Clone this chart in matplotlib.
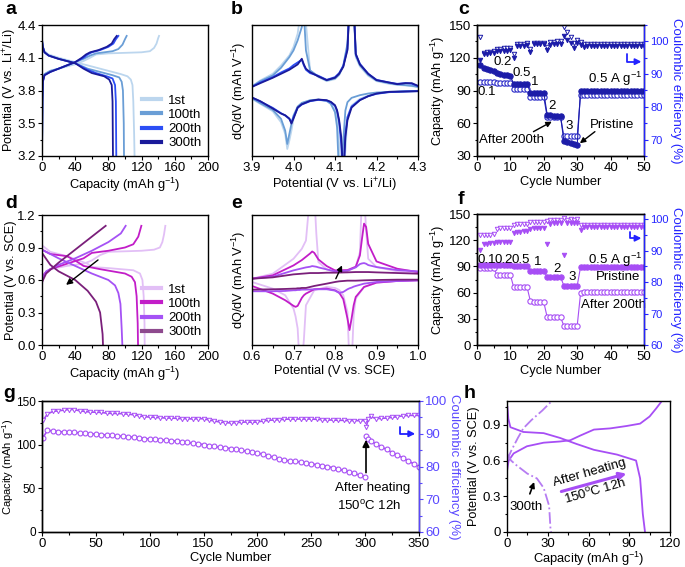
import matplotlib
matplotlib.use('Agg')
import matplotlib.pyplot as plt
from matplotlib.ticker import MultipleLocator
from matplotlib.lines import Line2D

plt.rcParams['font.family'] = ['Liberation Sans', 'DejaVu Sans']
plt.rcParams['mathtext.default'] = 'regular'
plt.rcParams['axes.linewidth'] = 1.0

# ---------------- panel a : charge / discharge vs Li ----------------
a_ch1_x = [0, 0.5, 1, 3, 10, 20, 30, 40, 50, 58, 65, 80, 100, 120, 130, 135, 138, 140, 141]
a_ch1_y = [3.2, 3.7, 3.9, 3.95, 3.98, 4.0, 4.02, 4.04, 4.07, 4.1, 4.13, 4.14, 4.145, 4.15, 4.16, 4.19, 4.23, 4.28, 4.3]
a_ch100_x = [0, 0.5, 1, 3, 10, 20, 30, 40, 50, 58, 65, 75, 85, 92, 97, 100, 102]
a_ch100_y = [3.2, 3.7, 3.89, 3.95, 3.98, 4.0, 4.03, 4.06, 4.09, 4.12, 4.14, 4.15, 4.16, 4.18, 4.22, 4.27, 4.3]
a_ch200_x = [0, 0.5, 1, 3, 10, 20, 30, 40, 50, 55, 60, 70, 80, 86, 89, 92]
a_ch200_y = [3.2, 3.7, 3.88, 3.94, 3.97, 4.0, 4.03, 4.06, 4.1, 4.13, 4.15, 4.17, 4.2, 4.23, 4.27, 4.3]
a_ch300_x = [0, 0.5, 1, 3, 10, 20, 30, 40, 48, 53, 58, 68, 78, 84, 87, 90]
a_ch300_y = [3.2, 3.7, 3.88, 3.94, 3.97, 4.0, 4.03, 4.06, 4.1, 4.13, 4.15, 4.17, 4.2, 4.23, 4.27, 4.3]
a_dis1_x = [0, 1, 3, 8, 20, 40, 60, 80, 95, 103, 107, 109, 110, 111, 111.5]
a_dis1_y = [4.25, 4.2, 4.16, 4.13, 4.1, 4.06, 4.02, 3.98, 3.95, 3.93, 3.9, 3.85, 3.7, 3.4, 3.2]
a_dis100_x = [0, 1, 3, 8, 20, 40, 55, 70, 85, 93, 96, 97.5, 98.5, 98.8]
a_dis100_y = [4.25, 4.2, 4.15, 4.12, 4.09, 4.05, 4.0, 3.97, 3.94, 3.92, 3.88, 3.8, 3.5, 3.2]
a_dis200_x = [0, 1, 3, 8, 20, 40, 55, 65, 78, 85, 88, 89, 89.5]
a_dis200_y = [4.26, 4.2, 4.15, 4.12, 4.09, 4.05, 3.99, 3.96, 3.93, 3.91, 3.85, 3.7, 3.2]
a_dis300_x = [0, 1, 3, 8, 20, 40, 50, 60, 75, 81, 84, 85, 85.5]
a_dis300_y = [4.27, 4.2, 4.15, 4.12, 4.09, 4.05, 4.0, 3.96, 3.93, 3.9, 3.85, 3.7, 3.2]

# ---------------- panel b : dQ/dV vs Li (arbitrary units) ----------------
b_ch_x = [3.90, 3.92, 3.95, 3.97, 3.99, 4.00, 4.01, 4.02, 4.025, 4.03, 4.04, 4.06, 4.08, 4.10, 4.11,
          4.12, 4.13, 4.135, 4.14, 4.145, 4.15, 4.16, 4.18, 4.20, 4.23, 4.25, 4.27, 4.285, 4.30]
b_ch1 = [13, 30, 50, 75, 105, 130, 170, 260, 260, 200, 60, 40, 28, 34, 46, 72, 135, 260, 260, 250, 100, 72, 44, 28, 20, 17, 15, 13, 10]
b_ch100 = [12, 28, 45, 68, 100, 120, 150, 190, 230, 120, 60, 42, 30, 36, 48, 75, 140, 260, 260, 250, 105, 76, 47, 30, 22, 18, 16, 14, 11]
b_ch200 = [11, 24, 40, 54, 66, 76, 84, 92, 75, 62, 52, 44, 32, 40, 52, 74, 125, 260, 260, 260, 108, 80, 50, 32, 24, 20, 22, 20, 13]
b_ch300 = [11, 22, 38, 50, 62, 70, 78, 95, 78, 65, 55, 42, 31, 38, 50, 71, 121, 260, 260, 260, 110, 78, 50, 31, 24, 19, 22, 22, 14]
b_dis_x = [3.90, 3.92, 3.95, 3.97, 3.98, 3.985, 3.99, 3.995, 4.00, 4.01, 4.02, 4.04, 4.06, 4.08, 4.09,
           4.10, 4.105, 4.11, 4.115, 4.12, 4.125, 4.13, 4.14, 4.16, 4.18, 4.20, 4.23, 4.27, 4.30]
b_dis1 = [-25, -40, -62, -95, -130, -175, -150, -120, -85, -50, -38, -30, -28, -32, -40, -60, -90, -160, -260, -260, -180, -80, -45, -25, -15, -9, -5, -3, -2]
b_dis100 = [-23, -38, -58, -85, -120, -160, -130, -100, -75, -48, -37, -29, -27, -31, -40, -65, -110, -260, -260, -150, -60, -35, -22, -14, -9, -6, -4, -2, -1]
b_dis200 = [-21, -33, -52, -68, -75, -80, -85, -95, -80, -52, -42, -32, -28, -30, -35, -46, -62, -95, -160, -260, -130, -80, -48, -28, -17, -10, -5, -3, -2]
b_dis300 = [-21, -32, -54, -69, -74, -79, -84, -99, -84, -51, -41, -31, -27, -29, -34, -44, -59, -89, -139, -260, -139, -89, -51, -29, -17, -9, -4, -3, -2]

# ---------------- panel c : rate, Li ----------------
c_cycle = list(range(1, 51))
c_cap_pristine = [113, 111, 110, 109, 108, 106, 105, 104, 104, 103,
                  96, 96, 96, 96, 96, 88, 88, 88, 88, 88,
                  68, 68, 67, 67, 67, 44, 43, 42, 41, 40] + [90] * 20
c_cap_after = [98, 98, 98, 98, 98, 97, 97, 97, 97, 97,
               91, 91, 91, 91, 91, 84, 84, 84, 84, 84,
               66, 66, 66, 66, 66, 48, 48, 48, 48, 48] + [86] * 20
c_ce_pristine = [94.3, 96.0, 96.2, 96.4, 96.5, 97.0, 97.1, 97.2, 97.2, 97.3,
                 94.8, 98.6, 98.7, 98.7, 98.8, 96.9, 99.1, 99.1, 99.2, 99.2,
                 97.4, 99.0, 99.2, 99.3, 99.3, 101.5, 100.5, 99.5, 97.9, 99.5,
                 99.0, 98.3] + [98.7] * 18
c_ce_after = [101.4, 96.6, 96.8, 96.8, 97.0, 97.8, 97.8, 97.9, 98.0, 98.0,
              96.0, 99.2, 99.3, 99.3, 99.4, 97.8, 99.5, 99.5, 99.6, 99.6,
              98.2, 99.8, 99.9, 100.0, 100.0, 104.5, 103.0, 101.4, 99.4, 100.4,
              99.8, 99.2] + [99.2] * 18

# ---------------- panel d : charge / discharge vs SCE ----------------
d_ch1_x = [0, 2, 10, 30, 50, 60, 70, 80, 100, 120, 135, 142, 145, 147, 148.6]
d_ch1_y = [0.55, 0.65, 0.7, 0.73, 0.75, 0.78, 0.83, 0.86, 0.865, 0.87, 0.88, 0.9, 0.95, 1.02, 1.1]
d_ch100_x = [0, 3, 10, 30, 50, 60, 80, 100, 110, 116, 119.7]
d_ch100_y = [0.6, 0.66, 0.7, 0.75, 0.8, 0.85, 0.87, 0.9, 0.93, 1.0, 1.1]
d_ch200_x = [0, 5, 20, 40, 60, 80, 95, 100.8]
d_ch200_y = [0.6, 0.68, 0.74, 0.8, 0.87, 0.95, 1.03, 1.1]
d_ch300_x = [0, 5, 20, 40, 60, 76.7]
d_ch300_y = [0.58, 0.66, 0.76, 0.88, 1.0, 1.1]
d_dis1_x = [0, 10, 30, 55, 60, 80, 110, 118, 121, 122.5, 123.5, 123.7]
d_dis1_y = [0.92, 0.86, 0.82, 0.75, 0.72, 0.71, 0.69, 0.66, 0.6, 0.45, 0.2, 0]
d_dis100_x = [0, 10, 30, 40, 50, 70, 100, 108, 112, 114, 115.3, 115.7]
d_dis100_y = [0.88, 0.84, 0.82, 0.78, 0.73, 0.7, 0.66, 0.63, 0.58, 0.45, 0.2, 0]
d_dis200_x = [0, 20, 40, 60, 80, 88, 92, 94.5, 96, 96.8]
d_dis200_y = [0.88, 0.8, 0.73, 0.66, 0.6, 0.55, 0.48, 0.38, 0.15, 0]
d_dis300_x = [0, 10, 20, 40, 55, 65, 70, 73, 73.5]
d_dis300_y = [0.85, 0.74, 0.68, 0.6, 0.5, 0.4, 0.3, 0.1, 0]

# ---------------- panel e : dQ/dV vs SCE ----------------
e_ch_x = [0.60, 0.65, 0.70, 0.72, 0.73, 0.74, 0.745, 0.75, 0.755, 0.76, 0.78, 0.80, 0.83, 0.85,
          0.86, 0.865, 0.87, 0.875, 0.88, 0.90, 0.95, 1.00]
e_ch1 = [4, 19, 64, 94, 119, 260, 260, 260, 140, 54, 32, 24, 27, 40, 84, 260, 260, 150, 64, 39, 26, 21]
e_ch100 = [4, 14, 44, 60, 70, 80, 86, 82, 72, 62, 42, 29, 30, 40, 74, 124, 170, 160, 109, 56, 34, 24]
e_ch200 = [4, 10, 29, 35, 38, 40, 42, 41, 40, 38, 32, 26, 28, 38, 48, 50, 51, 49, 45, 39, 30, 26]
e_ch300 = [4, 8, 17, 19, 20, 21, 21, 21, 21, 21, 22, 22, 23, 24, 24, 24, 24, 24, 24, 23, 21, 19]
e_dis_x = [0.60, 0.65, 0.68, 0.70, 0.705, 0.71, 0.715, 0.72, 0.725, 0.73, 0.75, 0.78, 0.80, 0.81,
           0.82, 0.83, 0.835, 0.84, 0.845, 0.85, 0.87, 0.90, 0.95, 1.00]
e_dis1 = [-6, -26, -46, -86, -110, -146, -260, -260, -180, -76, -31, -21, -24, -30, -46, -96, -260, -260, -106, -56, -21, -8, -3, -1]
e_dis100 = [-18, -41, -61, -78, -81, -78, -66, -54, -46, -41, -28, -26, -31, -38, -58, -116, -151, -116, -76, -51, -21, -8, -3, -1]
e_dis200 = [-34, -34, -33, -31, -31, -30, -30, -29, -29, -29, -28, -28, -32, -39, -36, -28, -25, -23, -20, -18, -11, -6, -3, -1]
e_dis300 = [-29, -28, -27, -26, -26, -25, -25, -24, -24, -24, -18, -11, -6, -4, -3, -2, -2, -2, -2, -2, -1, 0, 1, 1]

# ---------------- panel f : rate, SCE ----------------
f_cycle = list(range(1, 51))
f_cap_pristine = [92] * 10 + [90] * 5 + [85] * 5 + [78] * 5 + [68] * 5 + [89] * 20
f_cap_after = [88] * 5 + [80] * 5 + [66] * 5 + [50, 49, 49, 49, 49] + [32] * 5 + [22] * 5 + [59] + [61] * 19
f_ce_pristine = [90.1, 92.2, 92.2, 92.3, 92.4, 92.6, 92.7, 92.7, 92.8, 92.8,
                 95.5, 96.0, 96.0, 96.1, 96.1, 96.9, 97.0, 97.0, 97.1, 97.1,
                 92.2, 98.4, 98.6, 98.6, 98.7, 88.5, 98.6, 98.7, 98.7, 98.6,
                 96.5] + [97.5] * 19
f_ce_after = [94.9, 94.9, 95.0, 95.0, 95.1, 96.8, 97.0, 97.0, 97.1, 97.1,
              98.2, 98.4, 98.4, 98.5, 98.5, 99.0, 99.1, 99.1, 99.2, 99.2,
              99.3, 99.6, 99.7, 99.7, 99.8, 100.3, 99.8, 100.1, 99.6, 99.9,
              98.0] + [98.0] * 19

# ---------------- panel g : long cycling ----------------
g_cyc1 = [1] + list(range(5, 301, 5))
g_cap1 = [108, 116.5, 115.5, 115, 114.5, 114, 114, 113.5, 113, 112.5, 112, 111.5, 111, 110.5, 110,
          109.5, 109, 108.5, 108, 107, 106.5, 106, 105.5, 105, 104.5, 104, 103, 102.5, 101.5, 101,
          100, 99, 98, 97, 96.5, 95.5, 94.5, 93.5, 92.5, 91.5, 90.5, 89, 87.5, 85.5, 83.5, 82,
          81.5, 81, 80, 79, 78, 77, 76, 75, 73.5, 72, 70.5, 69, 67, 65, 63]
g_ce1 = [94.1, 96.0, 96.8, 97.0, 97.2, 97.4, 97.4, 97.0, 96.8, 96.6, 96.6, 96.5, 96.3, 96.2, 96.2,
         96.1, 96.0, 95.8, 95.5, 95.2, 95.1, 95.0, 94.9, 94.8, 94.8, 94.7, 94.6, 94.6, 94.5, 94.6,
         94.6, 94.2, 93.9, 93.6, 93.4, 93.3, 93.4, 93.5, 93.6, 93.5, 93.6, 93.9, 94.1, 94.2, 94.3,
         94.4, 94.5, 94.5, 94.5, 94.5, 94.5, 94.4, 94.3, 94.2, 94.2, 94.1, 94.1, 94.0, 94.0, 94.0, 94.0]
g_cyc2 = [301, 303] + list(range(305, 351, 5))
g_cap2 = [110, 106, 104, 101, 97.5, 94.5, 91, 88, 85, 81.5, 78, 75]
g_ce2 = [92.2, 94.5, 95.3, 94.6, 94.7, 94.8, 95.0, 95.2, 95.5, 95.6, 95.6, 95.6]

# ---------------- panel h : after heating ----------------
h_ch_x = [0, 1.2, 4.9, 14.7, 27, 39, 46.5, 54, 64, 76, 88, 98, 105, 110, 114]
h_ch_y = [0.51, 0.6, 0.66, 0.72, 0.75, 0.76, 0.77, 0.81, 0.86, 0.87, 0.89, 0.91, 0.97, 1.04, 1.1]
h_dis_x = [0.3, 1, 2.5, 12, 27, 39, 51, 64, 81, 95, 98, 100, 101.6]
h_dis_y = [1.05, 0.95, 0.88, 0.84, 0.83, 0.79, 0.74, 0.69, 0.65, 0.6, 0.45, 0.15, 0]
h_ch300_x = [0, 3, 8, 12, 18, 26, 33]
h_ch300_y = [0.6, 0.68, 0.79, 0.87, 0.94, 1.02, 1.1]
h_dis300_x = [0, 3, 7, 15, 22, 27, 31, 32, 32.5]
h_dis300_y = [0.66, 0.6, 0.56, 0.49, 0.45, 0.37, 0.22, 0.03, 0]

cycle_labels = ['1st', '100th', '200th', '300th']
blues = ['#bcd6ee', '#6a9ed6', '#2c4ef5', '#1a1a9a']
purples = ['#e2bff6', '#c21dc8', '#a552f5', '#7a1f7a']
purple_leg = ['#e2bff6', '#c21dc8', '#a552f5', '#8e4a8e']
cblue = '#1c1ca8'
ceblue = '#2424ff'
purple = '#a74ef5'

W, H = 685, 567
fig = plt.figure(figsize=(6.85, 5.67), dpi=100)


def add_ax(l, t, r, b):
    return fig.add_axes([l / W, 1 - b / H, (r - l) / W, (b - t) / H])


def style(ax):
    ax.tick_params(which='both', direction='out', labelsize=9.5, width=0.8, pad=1.5)
    ax.tick_params(which='major', length=3)
    ax.tick_params(which='minor', length=1.8)


def labels(ax, xl, yl, right_edge_px, ax_left_px, width_px, ysize=9.2):
    # right_edge_px: page x where the rotated y label ends (its right side)
    ax.set_xlabel(xl, fontsize=9.3, labelpad=1)
    ax.set_ylabel(yl, fontsize=ysize)
    ax.yaxis.set_label_coords((right_edge_px - ax_left_px) / width_px, 0.5)


def panel_label(x, y, s):
    fig.text(x / W, 1 - y / H, s, fontsize=14, fontweight='bold', va='center', ha='left')


def corner_arrow(ax, x1, y1, x2, y2, color):
    ax.annotate('', xy=(x2, y2), xytext=(x1, y1), xycoords='axes fraction',
                arrowprops=dict(arrowstyle='-|>', color=color, lw=1.3, mutation_scale=9,
                                shrinkA=0, shrinkB=0,
                                connectionstyle='angle,angleA=90,angleB=0,rad=0'))


def right_axis(ax2, color, tick_size, right_edge_px, ax_left_px, width_px):
    ax2.spines['right'].set_color(color)
    ax2.tick_params(axis='y', which='both', colors=color, labelsize=tick_size)
    ax2.set_ylabel('Coulombic efficiency (%)', fontsize=9.5, color=color, rotation=270)
    ax2.yaxis.set_label_coords((right_edge_px - ax_left_px) / width_px, 0.5)


# ---- a
ax = add_ax(42, 25, 208, 156)
style(ax)
for cx, cy, dx, dy, col in zip([a_ch1_x, a_ch100_x, a_ch200_x, a_ch300_x],
                               [a_ch1_y, a_ch100_y, a_ch200_y, a_ch300_y],
                               [a_dis1_x, a_dis100_x, a_dis200_x, a_dis300_x],
                               [a_dis1_y, a_dis100_y, a_dis200_y, a_dis300_y],
                               blues):
    ax.plot(cx, cy, color=col, lw=1.3)
    ax.plot(dx, dy, color=col, lw=1.3)
ax.set_xlim(0, 200)
ax.set_ylim(3.2, 4.4)
ax.xaxis.set_major_locator(MultipleLocator(40))
ax.xaxis.set_minor_locator(MultipleLocator(20))
ax.set_yticks([3.2, 3.5, 3.8, 4.1, 4.4])
ax.set_yticks([3.35, 3.65, 3.95, 4.25], minor=True)
labels(ax, 'Capacity (mAh g$^{-1}$)', 'Potential (V vs. Li$^{+}$/Li)', 19, 42, 166)
handles = [Line2D([], [], color=c, lw=3) for c in blues]
ax.legend(handles, cycle_labels, loc='lower right', frameon=False, fontsize=9.5,
          handlelength=1.5, handletextpad=0.5, labelspacing=0.15, borderaxespad=0.1)
panel_label(5, 10, 'a')

# ---- b
ax = add_ax(252, 25, 418, 156)
style(ax)
for ys, col in zip([b_ch1, b_ch100, b_ch200, b_ch300], blues):
    ax.plot(b_ch_x, ys, color=col, lw=1.3)
for ys, col in zip([b_dis1, b_dis100, b_dis200, b_dis300], blues):
    ax.plot(b_dis_x, ys, color=col, lw=1.3)
ax.set_xlim(3.9, 4.3)
ax.set_ylim(-196, 196)
ax.set_yticks([])
ax.xaxis.set_major_locator(MultipleLocator(0.1))
ax.xaxis.set_minor_locator(MultipleLocator(0.05))
labels(ax, 'Potential (V vs. Li$^{+}$/Li)', 'dQ/dV (mAh V$^{-1}$)', 248, 252, 166)
panel_label(231, 10, 'b')

# ---- c
ax = add_ax(477, 25, 644, 156)
style(ax)
ax2 = ax.twinx()
style(ax2)
ax2.plot(c_cycle, c_ce_after, 'v', color=cblue, mfc='white', ms=3.2, mew=0.7)
ax2.plot(c_cycle, c_ce_pristine, 'v', color=cblue, ms=3.2, mew=0.7)
ax.plot(c_cycle, c_cap_after, '-o', color='#2a2ac8', mfc='white', ms=3.8, mew=0.8, lw=0.8)
ax.plot(c_cycle, c_cap_pristine, '-o', color=cblue, ms=3.8, mew=0.8, lw=0.8)
ax.set_xlim(0, 50)
ax.set_ylim(30, 150)
ax2.set_ylim(65, 105)
ax.xaxis.set_major_locator(MultipleLocator(10))
ax.xaxis.set_minor_locator(MultipleLocator(5))
ax.yaxis.set_major_locator(MultipleLocator(30))
ax.yaxis.set_minor_locator(MultipleLocator(15))
ax2.yaxis.set_major_locator(MultipleLocator(10))
ax2.yaxis.set_minor_locator(MultipleLocator(5))
right_axis(ax2, ceblue, 8, 682, 477, 167)
labels(ax, 'Cycle Number', 'Capacity (mAh g$^{-1}$)', 447, 477, 167)
ax.text(3, 89, '0.1', fontsize=9.5, ha='center', va='center')
ax.text(7.8, 116, '0.2', fontsize=9.5, ha='center', va='center')
ax.text(13.4, 106, '0.5', fontsize=9.5, ha='center', va='center')
ax.text(17.4, 98, '1', fontsize=9.5, ha='center', va='center')
ax.text(22.4, 76, '2', fontsize=9.5, ha='center', va='center')
ax.text(27.6, 57.5, '3', fontsize=9.5, ha='center', va='center')
ax.text(40.3, 58.5, 'Pristine', fontsize=9.5, ha='center', va='center')
ax.text(41.3, 101, '0.5 A g$^{-1}$', fontsize=9.5, ha='center', va='center')
ax.text(10.4, 44.5, 'After 200th', fontsize=9.5, ha='center', va='center')
ax.annotate('', xy=(22.4, 61.5), xytext=(16.9, 52.3),
            arrowprops=dict(arrowstyle='-|>', color='k', lw=1.0, mutation_scale=8, shrinkA=0, shrinkB=0))
ax.annotate('', xy=(30.8, 41.7), xytext=(35.3, 52.3),
            arrowprops=dict(arrowstyle='-|>', color='k', lw=1.0, mutation_scale=8, shrinkA=0, shrinkB=0))
corner_arrow(ax, 0.9, 0.775, 0.985, 0.72, ceblue)
panel_label(458, 10, 'c')

# ---- d
ax = add_ax(42, 215, 208, 345)
style(ax)
for cx, cy, dx, dy, col in zip([d_ch1_x, d_ch100_x, d_ch200_x, d_ch300_x],
                               [d_ch1_y, d_ch100_y, d_ch200_y, d_ch300_y],
                               [d_dis1_x, d_dis100_x, d_dis200_x, d_dis300_x],
                               [d_dis1_y, d_dis100_y, d_dis200_y, d_dis300_y],
                               purples):
    ax.plot(cx, cy, color=col, lw=1.3)
    ax.plot(dx, dy, color=col, lw=1.3)
ax.annotate('', xy=(29, 0.555), xytext=(67.5, 0.785),
            arrowprops=dict(arrowstyle='-|>', color='k', lw=1.0, mutation_scale=9, shrinkA=0, shrinkB=0))
ax.set_xlim(0, 200)
ax.set_ylim(0, 1.2)
ax.xaxis.set_major_locator(MultipleLocator(40))
ax.xaxis.set_minor_locator(MultipleLocator(20))
ax.yaxis.set_major_locator(MultipleLocator(0.3))
ax.yaxis.set_minor_locator(MultipleLocator(0.15))
labels(ax, 'Capacity (mAh g$^{-1}$)', 'Potential (V vs. SCE)', 17, 42, 166)
handles = [Line2D([], [], color=c, lw=3) for c in purple_leg]
ax.legend(handles, cycle_labels, loc='lower right', frameon=False, fontsize=9.5,
          handlelength=1.5, handletextpad=0.5, labelspacing=0.15, borderaxespad=0.1)
panel_label(5, 203, 'd')

# ---- e
ax = add_ax(252, 215, 418, 345)
style(ax)
for ys, col in zip([e_ch1, e_ch100, e_ch200, e_ch300], purples):
    ax.plot(e_ch_x, ys, color=col, lw=1.3)
for ys, col in zip([e_dis1, e_dis100, e_dis200, e_dis300], purples):
    ax.plot(e_dis_x, ys, color=col, lw=1.3)
ax.annotate('', xy=(0.817, 44), xytext=(0.802, 4),
            arrowprops=dict(arrowstyle='-|>', color='k', lw=1.0, mutation_scale=8, shrinkA=0, shrinkB=0))
ax.set_xlim(0.6, 1.0)
ax.set_ylim(-196, 196)
ax.set_yticks([])
ax.xaxis.set_major_locator(MultipleLocator(0.1))
ax.xaxis.set_minor_locator(MultipleLocator(0.05))
labels(ax, 'Potential (V vs. SCE)', 'dQ/dV (mAh V$^{-1}$)', 248, 252, 166)
panel_label(231, 203, 'e')

# ---- f
ax = add_ax(477, 214, 644, 345)
style(ax)
ax2 = ax.twinx()
style(ax2)
ax2.plot(f_cycle, f_ce_after, 'v', color=purple, mfc='white', ms=3.2, mew=0.7)
ax2.plot(f_cycle, f_ce_pristine, 'v', color=purple, ms=3.2, mew=0.7)
ax.plot(f_cycle, f_cap_after, '-o', color=purple, mfc='white', ms=3.8, mew=0.8, lw=0.8)
ax.plot(f_cycle, f_cap_pristine, '-o', color=purple, ms=3.8, mew=0.8, lw=0.8)
ax.set_xlim(0, 50)
ax.set_ylim(0, 150)
ax2.set_ylim(60, 101.6)
ax.xaxis.set_major_locator(MultipleLocator(10))
ax.xaxis.set_minor_locator(MultipleLocator(5))
ax.yaxis.set_major_locator(MultipleLocator(30))
ax.yaxis.set_minor_locator(MultipleLocator(15))
ax2.yaxis.set_major_locator(MultipleLocator(10))
ax2.yaxis.set_minor_locator(MultipleLocator(5))
right_axis(ax2, ceblue, 8, 682, 477, 167)
labels(ax, 'Cycle Number', 'Capacity (mAh g$^{-1}$)', 447, 477, 167)
ax.text(2.9, 97.5, '0.1', fontsize=9.5, ha='center', va='center')
ax.text(7.9, 97.5, '0.2', fontsize=9.5, ha='center', va='center')
ax.text(13.0, 97.5, '0.5', fontsize=9.5, ha='center', va='center')
ax.text(18.1, 95.5, '1', fontsize=9.5, ha='center', va='center')
ax.text(23.9, 86.5, '2', fontsize=9.5, ha='center', va='center')
ax.text(28.4, 77.5, '3', fontsize=9.5, ha='center', va='center')
ax.text(41.3, 97.5, '0.5 A g$^{-1}$', fontsize=9.5, ha='center', va='center')
ax.text(42.3, 77.5, 'Pristine', fontsize=9.5, ha='center', va='center')
ax.text(40.8, 46, 'After 200th', fontsize=9.5, ha='center', va='center')
corner_arrow(ax, 0.916, 0.865, 0.985, 0.815, ceblue)
panel_label(458, 200, 'f')

# ---- g
ax = add_ax(42, 401, 419, 532)
style(ax)
ax.tick_params(axis='y', labelsize=8.5)
ax2 = ax.twinx()
style(ax2)
ax2.plot(g_cyc1, g_ce1, '-v', color=purple, mfc='white', ms=3.2, mew=0.7, lw=1.2)
ax2.plot(g_cyc2, g_ce2, '-v', color=purple, mfc='white', ms=3.2, mew=0.7, lw=1.2)
ax.plot(g_cyc1, g_cap1, '-o', color=purple, mfc='white', ms=3.5, mew=0.8, lw=1.2)
ax.plot(g_cyc2, g_cap2, '-o', color=purple, mfc='white', ms=3.5, mew=0.8, lw=1.2)
ax.annotate('', xy=(300.8, 105.5), xytext=(300.8, 68),
            arrowprops=dict(arrowstyle='-|>', color='k', lw=1.2, mutation_scale=10, shrinkA=0, shrinkB=0))
ax.text(307, 50, 'After heating', fontsize=9.5, ha='center', va='center')
ax.text(304, 30, '150$^{o}$C 12h', fontsize=9.5, ha='center', va='center')
ax.set_xlim(0, 350)
ax.set_ylim(0, 150)
ax2.set_ylim(60, 100)
ax.xaxis.set_major_locator(MultipleLocator(50))
ax.xaxis.set_minor_locator(MultipleLocator(25))
ax.yaxis.set_major_locator(MultipleLocator(50))
ax.yaxis.set_minor_locator(MultipleLocator(25))
ax2.yaxis.set_major_locator(MultipleLocator(10))
ax2.yaxis.set_minor_locator(MultipleLocator(5))
right_axis(ax2, '#5a48ff', 9.5, 460, 42, 377)
labels(ax, 'Cycle Number', 'Capacity (mAh g$^{-1}$)', 16.5, 42, 377, ysize=8)
corner_arrow(ax, 0.95, 0.805, 0.99, 0.75, '#2020ff')
panel_label(3, 393, 'g')

# ---- h
ax = add_ax(507, 401, 670, 532)
style(ax)
ax.plot(h_ch_x, h_ch_y, color=purple, lw=1.3)
ax.plot(h_dis_x, h_dis_y, color=purple, lw=1.3)
ax.plot(h_ch300_x, h_ch300_y, color='#b67cf2', lw=1.3, ls='-.')
ax.plot(h_dis300_x, h_dis300_y, color='#b67cf2', lw=1.3, ls='-.')
ax.annotate('', xy=(20, 0.42), xytext=(16.8, 0.32),
            arrowprops=dict(arrowstyle='-|>', color='k', lw=1.2, mutation_scale=8, shrinkA=0, shrinkB=0))
ax.text(14, 0.21, '300th', fontsize=9.5, ha='center', va='center')
ax.annotate('', xy=(88, 0.49), xytext=(40, 0.34),
            arrowprops=dict(arrowstyle='-|>', color=purple, lw=2.2, mutation_scale=10, shrinkA=0, shrinkB=0))
ax.text(61, 0.5, 'After heating', fontsize=9.5, ha='center', va='center', rotation=16)
ax.text(65, 0.34, '150$^{o}$C 12h', fontsize=9.5, ha='center', va='center', rotation=16)
ax.set_xlim(0, 120)
ax.set_ylim(0, 1.1)
ax.xaxis.set_major_locator(MultipleLocator(30))
ax.xaxis.set_minor_locator(MultipleLocator(15))
ax.set_yticks([0, 0.3, 0.6, 0.9])
ax.set_yticklabels(['0', '0.3', '0.6', '0.9'])
ax.yaxis.set_minor_locator(MultipleLocator(0.15))
labels(ax, 'Capacity (mAh g$^{-1}$)', 'Potential (V vs. SCE)', 480, 507, 163)
ax.xaxis.labelpad = 0
panel_label(464, 393, 'h')

fig.savefig('out.png', dpi=100)
